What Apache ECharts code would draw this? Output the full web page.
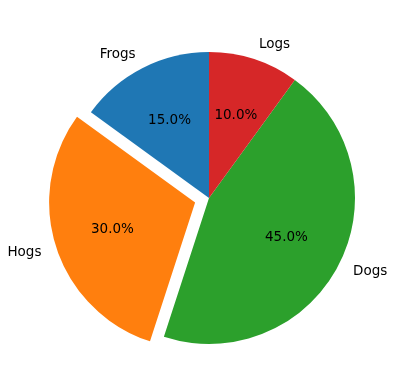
<!DOCTYPE html>
<html>
<head>
<meta charset="utf-8">
<script src="https://cdn.jsdelivr.net/npm/echarts@6/dist/echarts.min.js"></script>
<style>html,body{margin:0;padding:0;background:#fff}#c{width:405px;height:368px}</style>
</head>
<body>
<div id="c"></div>
<script>
const categories = ['Frogs', 'Hogs', 'Dogs', 'Logs'];
const values = [15, 30, 45, 10];
const explode = [0, 0.1, 0, 0];
const colors = ['#1f77b4', '#ff7f0e', '#2ca02c', '#d62728'];

const R = 146;
const CX = 209, CY = 198;
const font = 'DejaVu Sans';
const fs = 13.5;
const total = values.reduce((a, b) => a + b, 0);

function makeData(transparent) {
  return categories.map((name, i) => ({
    name: name,
    value: values[i],
    selected: explode[i] > 0,
    itemStyle: { color: transparent ? 'rgba(0,0,0,0)' : colors[i] }
  }));
}

const chart = echarts.init(document.getElementById('c'), null, { renderer: 'canvas' });
chart.setOption({
  animation: false,
  series: [
    {
      type: 'pie',
      center: [CX, CY],
      radius: [0, R],
      startAngle: 90,
      clockwise: false,
      selectedMode: 'single',
      selectedOffset: 0.1 * R,
      avoidLabelOverlap: false,
      silent: true,
      data: makeData(false),
      label: {
        show: true,
        position: 'outside',
        formatter: '{b}',
        fontFamily: font,
        fontSize: fs,
        color: '#000',
        distanceToLabelLine: 0
      },
      labelLine: { show: false, length: 0.1 * R + 1, length2: 0 },
      emphasis: { disabled: true },
      itemStyle: { borderWidth: 0 }
    },
    {
      type: 'pie',
      center: [CX, CY],
      radius: [0, 1.15 * R],
      startAngle: 90,
      clockwise: false,
      selectedMode: 'single',
      selectedOffset: 0.1 * R,
      avoidLabelOverlap: false,
      silent: true,
      data: makeData(true),
      label: {
        show: true,
        position: 'inside',
        formatter: function (p) { return (p.value / total * 100).toFixed(1) + '%'; },
        fontFamily: font,
        fontSize: fs,
        color: '#000'
      },
      labelLine: { show: false },
      emphasis: { disabled: true },
      itemStyle: { borderWidth: 0 }
    }
  ]
});
</script>
</body>
</html>
